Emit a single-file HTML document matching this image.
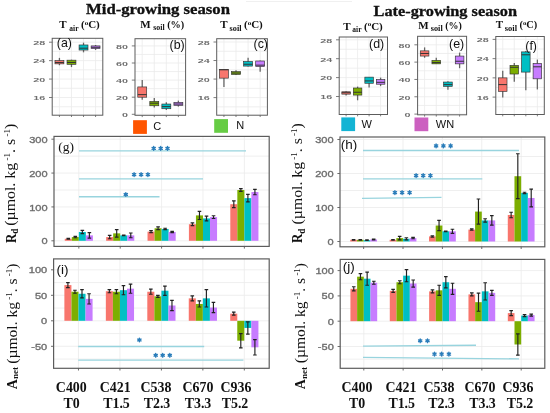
<!DOCTYPE html>
<html><head><meta charset="utf-8"><style>
html,body{margin:0;padding:0;background:#fff;width:550px;height:413px;overflow:hidden}
svg{display:block;will-change:transform}
</style></head><body>
<svg width="550" height="413" viewBox="0 0 550 413" font-family="Liberation Sans, sans-serif">
<rect width="550" height="413" fill="#fff"/>
<line x1="246" x2="352" y1="1.5" y2="1.5" stroke="#f0f0f0" stroke-width="1"/>
<line x1="52.2" x2="102.8" y1="97.5" y2="97.5" stroke="#EBEBEB" stroke-width="0.8"/>
<line x1="52.2" x2="102.8" y1="79.07" y2="79.07" stroke="#EBEBEB" stroke-width="0.8"/>
<line x1="52.2" x2="102.8" y1="60.63" y2="60.63" stroke="#EBEBEB" stroke-width="0.8"/>
<line x1="52.2" x2="102.8" y1="42.2" y2="42.2" stroke="#EBEBEB" stroke-width="0.8"/>
<line x1="52.2" x2="102.8" y1="106.72" y2="106.72" stroke="#EBEBEB" stroke-width="0.8"/>
<line x1="52.2" x2="102.8" y1="88.28" y2="88.28" stroke="#EBEBEB" stroke-width="0.8"/>
<line x1="52.2" x2="102.8" y1="69.85" y2="69.85" stroke="#EBEBEB" stroke-width="0.8"/>
<line x1="52.2" x2="102.8" y1="51.42" y2="51.42" stroke="#EBEBEB" stroke-width="0.8"/>
<line x1="59.43" x2="59.43" y1="38.3" y2="115.2" stroke="#EBEBEB" stroke-width="0.8"/>
<line x1="71.48" x2="71.48" y1="38.3" y2="115.2" stroke="#EBEBEB" stroke-width="0.8"/>
<line x1="83.52" x2="83.52" y1="38.3" y2="115.2" stroke="#EBEBEB" stroke-width="0.8"/>
<line x1="95.57" x2="95.57" y1="38.3" y2="115.2" stroke="#EBEBEB" stroke-width="0.8"/>
<line x1="59.43" x2="59.43" y1="57.87" y2="65.24" stroke="#666" stroke-width="1.3"/>
<rect x="54.97" y="60.63" width="8.92" height="3.23" fill="#F8766D" stroke="#333" stroke-width="0.65"/>
<line x1="54.97" x2="63.89" y1="62.48" y2="62.48" stroke="#333" stroke-width="1"/>
<line x1="71.48" x2="71.48" y1="59.71" y2="67.08" stroke="#666" stroke-width="1.3"/>
<rect x="67.02" y="60.17" width="8.92" height="4.15" fill="#7CAE00" stroke="#333" stroke-width="0.65"/>
<line x1="67.02" x2="75.93" y1="62.48" y2="62.48" stroke="#333" stroke-width="1"/>
<line x1="83.52" x2="83.52" y1="42.66" y2="52.34" stroke="#666" stroke-width="1.3"/>
<rect x="79.07" y="44.97" width="8.92" height="5.07" fill="#00BFC4" stroke="#333" stroke-width="0.65"/>
<line x1="79.07" x2="87.98" y1="48.19" y2="48.19" stroke="#333" stroke-width="1"/>
<line x1="95.57" x2="95.57" y1="44.97" y2="50.03" stroke="#666" stroke-width="1.3"/>
<rect x="91.11" y="45.89" width="8.92" height="2.76" fill="#C77CFF" stroke="#333" stroke-width="0.65"/>
<line x1="91.11" x2="100.03" y1="47.27" y2="47.27" stroke="#333" stroke-width="1"/>
<rect x="52.2" y="38.3" width="50.6" height="76.9" fill="none" stroke="#5c5c5c" stroke-width="1.0"/>
<line x1="49" x2="52.2" y1="97.5" y2="97.5" stroke="#5c5c5c" stroke-width="0.8"/>
<text transform="translate(45.2,100.33) scale(1.8,1)" font-size="6.0" font-weight="bold" text-anchor="end" fill="#6e6e6e">16</text>
<line x1="49" x2="52.2" y1="79.07" y2="79.07" stroke="#5c5c5c" stroke-width="0.8"/>
<text transform="translate(45.2,81.9) scale(1.8,1)" font-size="6.0" font-weight="bold" text-anchor="end" fill="#6e6e6e">20</text>
<line x1="49" x2="52.2" y1="60.63" y2="60.63" stroke="#5c5c5c" stroke-width="0.8"/>
<text transform="translate(45.2,63.46) scale(1.8,1)" font-size="6.0" font-weight="bold" text-anchor="end" fill="#6e6e6e">24</text>
<line x1="49" x2="52.2" y1="42.2" y2="42.2" stroke="#5c5c5c" stroke-width="0.8"/>
<text transform="translate(45.2,45.03) scale(1.8,1)" font-size="6.0" font-weight="bold" text-anchor="end" fill="#6e6e6e">28</text>
<line x1="59.43" x2="59.43" y1="115.2" y2="117" stroke="#5c5c5c" stroke-width="0.8"/>
<line x1="71.48" x2="71.48" y1="115.2" y2="117" stroke="#5c5c5c" stroke-width="0.8"/>
<line x1="83.52" x2="83.52" y1="115.2" y2="117" stroke="#5c5c5c" stroke-width="0.8"/>
<line x1="95.57" x2="95.57" y1="115.2" y2="117" stroke="#5c5c5c" stroke-width="0.8"/>
<text x="56.8" y="47.4" font-size="12.4" fill="#111">(a)</text>
<line x1="135" x2="185.6" y1="114.3" y2="114.3" stroke="#EBEBEB" stroke-width="0.8"/>
<line x1="135" x2="185.6" y1="97.2" y2="97.2" stroke="#EBEBEB" stroke-width="0.8"/>
<line x1="135" x2="185.6" y1="80.1" y2="80.1" stroke="#EBEBEB" stroke-width="0.8"/>
<line x1="135" x2="185.6" y1="63" y2="63" stroke="#EBEBEB" stroke-width="0.8"/>
<line x1="135" x2="185.6" y1="45.9" y2="45.9" stroke="#EBEBEB" stroke-width="0.8"/>
<line x1="135" x2="185.6" y1="105.75" y2="105.75" stroke="#EBEBEB" stroke-width="0.8"/>
<line x1="135" x2="185.6" y1="88.65" y2="88.65" stroke="#EBEBEB" stroke-width="0.8"/>
<line x1="135" x2="185.6" y1="71.55" y2="71.55" stroke="#EBEBEB" stroke-width="0.8"/>
<line x1="135" x2="185.6" y1="54.45" y2="54.45" stroke="#EBEBEB" stroke-width="0.8"/>
<line x1="142.23" x2="142.23" y1="38.7" y2="115.3" stroke="#EBEBEB" stroke-width="0.8"/>
<line x1="154.28" x2="154.28" y1="38.7" y2="115.3" stroke="#EBEBEB" stroke-width="0.8"/>
<line x1="166.32" x2="166.32" y1="38.7" y2="115.3" stroke="#EBEBEB" stroke-width="0.8"/>
<line x1="178.37" x2="178.37" y1="38.7" y2="115.3" stroke="#EBEBEB" stroke-width="0.8"/>
<line x1="142.23" x2="142.23" y1="80.1" y2="99.77" stroke="#666" stroke-width="1.3"/>
<rect x="137.77" y="86.94" width="8.92" height="10.26" fill="#F8766D" stroke="#333" stroke-width="0.65"/>
<line x1="137.77" x2="146.69" y1="94.63" y2="94.63" stroke="#333" stroke-width="1"/>
<line x1="154.28" x2="154.28" y1="98.05" y2="107.46" stroke="#666" stroke-width="1.3"/>
<rect x="149.82" y="101.47" width="8.92" height="4.28" fill="#7CAE00" stroke="#333" stroke-width="0.65"/>
<line x1="149.82" x2="158.73" y1="103.19" y2="103.19" stroke="#333" stroke-width="1"/>
<line x1="166.32" x2="166.32" y1="102.33" y2="110.02" stroke="#666" stroke-width="1.3"/>
<rect x="161.87" y="104.04" width="8.92" height="4.7" fill="#00BFC4" stroke="#333" stroke-width="0.65"/>
<line x1="161.87" x2="170.78" y1="106.6" y2="106.6" stroke="#333" stroke-width="1"/>
<line x1="178.37" x2="178.37" y1="100.62" y2="106.6" stroke="#666" stroke-width="1.3"/>
<rect x="173.91" y="102.33" width="8.92" height="2.99" fill="#C77CFF" stroke="#333" stroke-width="0.65"/>
<line x1="173.91" x2="182.83" y1="104.04" y2="104.04" stroke="#333" stroke-width="1"/>
<rect x="135" y="38.7" width="50.6" height="76.6" fill="none" stroke="#5c5c5c" stroke-width="1.0"/>
<line x1="131.8" x2="135" y1="114.3" y2="114.3" stroke="#5c5c5c" stroke-width="0.8"/>
<text transform="translate(128,117.13) scale(1.8,1)" font-size="6.0" font-weight="bold" text-anchor="end" fill="#6e6e6e">0</text>
<line x1="131.8" x2="135" y1="97.2" y2="97.2" stroke="#5c5c5c" stroke-width="0.8"/>
<text transform="translate(128,100.03) scale(1.8,1)" font-size="6.0" font-weight="bold" text-anchor="end" fill="#6e6e6e">20</text>
<line x1="131.8" x2="135" y1="80.1" y2="80.1" stroke="#5c5c5c" stroke-width="0.8"/>
<text transform="translate(128,82.93) scale(1.8,1)" font-size="6.0" font-weight="bold" text-anchor="end" fill="#6e6e6e">40</text>
<line x1="131.8" x2="135" y1="63" y2="63" stroke="#5c5c5c" stroke-width="0.8"/>
<text transform="translate(128,65.83) scale(1.8,1)" font-size="6.0" font-weight="bold" text-anchor="end" fill="#6e6e6e">60</text>
<line x1="131.8" x2="135" y1="45.9" y2="45.9" stroke="#5c5c5c" stroke-width="0.8"/>
<text transform="translate(128,48.73) scale(1.8,1)" font-size="6.0" font-weight="bold" text-anchor="end" fill="#6e6e6e">80</text>
<line x1="142.23" x2="142.23" y1="115.3" y2="117.1" stroke="#5c5c5c" stroke-width="0.8"/>
<line x1="154.28" x2="154.28" y1="115.3" y2="117.1" stroke="#5c5c5c" stroke-width="0.8"/>
<line x1="166.32" x2="166.32" y1="115.3" y2="117.1" stroke="#5c5c5c" stroke-width="0.8"/>
<line x1="178.37" x2="178.37" y1="115.3" y2="117.1" stroke="#5c5c5c" stroke-width="0.8"/>
<text x="169.6" y="49.2" font-size="12.4" fill="#111">(b)</text>
<line x1="216.7" x2="267.4" y1="97.6" y2="97.6" stroke="#EBEBEB" stroke-width="0.8"/>
<line x1="216.7" x2="267.4" y1="79.07" y2="79.07" stroke="#EBEBEB" stroke-width="0.8"/>
<line x1="216.7" x2="267.4" y1="60.53" y2="60.53" stroke="#EBEBEB" stroke-width="0.8"/>
<line x1="216.7" x2="267.4" y1="42" y2="42" stroke="#EBEBEB" stroke-width="0.8"/>
<line x1="216.7" x2="267.4" y1="106.87" y2="106.87" stroke="#EBEBEB" stroke-width="0.8"/>
<line x1="216.7" x2="267.4" y1="88.33" y2="88.33" stroke="#EBEBEB" stroke-width="0.8"/>
<line x1="216.7" x2="267.4" y1="69.8" y2="69.8" stroke="#EBEBEB" stroke-width="0.8"/>
<line x1="216.7" x2="267.4" y1="51.27" y2="51.27" stroke="#EBEBEB" stroke-width="0.8"/>
<line x1="223.94" x2="223.94" y1="38.7" y2="115.2" stroke="#EBEBEB" stroke-width="0.8"/>
<line x1="236.01" x2="236.01" y1="38.7" y2="115.2" stroke="#EBEBEB" stroke-width="0.8"/>
<line x1="248.09" x2="248.09" y1="38.7" y2="115.2" stroke="#EBEBEB" stroke-width="0.8"/>
<line x1="260.16" x2="260.16" y1="38.7" y2="115.2" stroke="#EBEBEB" stroke-width="0.8"/>
<line x1="223.94" x2="223.94" y1="69.34" y2="86.94" stroke="#666" stroke-width="1.3"/>
<rect x="219.48" y="69.34" width="8.93" height="8.8" fill="#F8766D" stroke="#333" stroke-width="0.65"/>
<line x1="219.48" x2="228.41" y1="69.8" y2="69.8" stroke="#333" stroke-width="1"/>
<line x1="236.01" x2="236.01" y1="70.26" y2="74.9" stroke="#666" stroke-width="1.3"/>
<rect x="231.55" y="71.65" width="8.93" height="2.78" fill="#7CAE00" stroke="#333" stroke-width="0.65"/>
<line x1="231.55" x2="240.48" y1="73.04" y2="73.04" stroke="#333" stroke-width="1"/>
<line x1="248.09" x2="248.09" y1="57.75" y2="66.56" stroke="#666" stroke-width="1.3"/>
<rect x="243.62" y="61.46" width="8.93" height="4.63" fill="#00BFC4" stroke="#333" stroke-width="0.65"/>
<line x1="243.62" x2="252.55" y1="64.24" y2="64.24" stroke="#333" stroke-width="1"/>
<line x1="260.16" x2="260.16" y1="60.53" y2="71.65" stroke="#666" stroke-width="1.3"/>
<rect x="255.69" y="61" width="8.93" height="5.56" fill="#C77CFF" stroke="#333" stroke-width="0.65"/>
<line x1="255.69" x2="264.62" y1="65.17" y2="65.17" stroke="#333" stroke-width="1"/>
<rect x="216.7" y="38.7" width="50.7" height="76.5" fill="none" stroke="#5c5c5c" stroke-width="1.0"/>
<line x1="213.5" x2="216.7" y1="97.6" y2="97.6" stroke="#5c5c5c" stroke-width="0.8"/>
<text transform="translate(209.7,100.43) scale(1.8,1)" font-size="6.0" font-weight="bold" text-anchor="end" fill="#6e6e6e">16</text>
<line x1="213.5" x2="216.7" y1="79.07" y2="79.07" stroke="#5c5c5c" stroke-width="0.8"/>
<text transform="translate(209.7,81.9) scale(1.8,1)" font-size="6.0" font-weight="bold" text-anchor="end" fill="#6e6e6e">20</text>
<line x1="213.5" x2="216.7" y1="60.53" y2="60.53" stroke="#5c5c5c" stroke-width="0.8"/>
<text transform="translate(209.7,63.36) scale(1.8,1)" font-size="6.0" font-weight="bold" text-anchor="end" fill="#6e6e6e">24</text>
<line x1="213.5" x2="216.7" y1="42" y2="42" stroke="#5c5c5c" stroke-width="0.8"/>
<text transform="translate(209.7,44.83) scale(1.8,1)" font-size="6.0" font-weight="bold" text-anchor="end" fill="#6e6e6e">28</text>
<line x1="223.94" x2="223.94" y1="115.2" y2="117" stroke="#5c5c5c" stroke-width="0.8"/>
<line x1="236.01" x2="236.01" y1="115.2" y2="117" stroke="#5c5c5c" stroke-width="0.8"/>
<line x1="248.09" x2="248.09" y1="115.2" y2="117" stroke="#5c5c5c" stroke-width="0.8"/>
<line x1="260.16" x2="260.16" y1="115.2" y2="117" stroke="#5c5c5c" stroke-width="0.8"/>
<text x="253.5" y="48.4" font-size="12.4" fill="#111">(c)</text>
<line x1="339.2" x2="387.5" y1="96.5" y2="96.5" stroke="#EBEBEB" stroke-width="0.8"/>
<line x1="339.2" x2="387.5" y1="77.6" y2="77.6" stroke="#EBEBEB" stroke-width="0.8"/>
<line x1="339.2" x2="387.5" y1="58.7" y2="58.7" stroke="#EBEBEB" stroke-width="0.8"/>
<line x1="339.2" x2="387.5" y1="39.8" y2="39.8" stroke="#EBEBEB" stroke-width="0.8"/>
<line x1="339.2" x2="387.5" y1="105.95" y2="105.95" stroke="#EBEBEB" stroke-width="0.8"/>
<line x1="339.2" x2="387.5" y1="87.05" y2="87.05" stroke="#EBEBEB" stroke-width="0.8"/>
<line x1="339.2" x2="387.5" y1="68.15" y2="68.15" stroke="#EBEBEB" stroke-width="0.8"/>
<line x1="339.2" x2="387.5" y1="49.25" y2="49.25" stroke="#EBEBEB" stroke-width="0.8"/>
<line x1="346.1" x2="346.1" y1="37" y2="114.5" stroke="#EBEBEB" stroke-width="0.8"/>
<line x1="357.6" x2="357.6" y1="37" y2="114.5" stroke="#EBEBEB" stroke-width="0.8"/>
<line x1="369.1" x2="369.1" y1="37" y2="114.5" stroke="#EBEBEB" stroke-width="0.8"/>
<line x1="380.6" x2="380.6" y1="37" y2="114.5" stroke="#EBEBEB" stroke-width="0.8"/>
<line x1="346.1" x2="346.1" y1="91.3" y2="95.56" stroke="#666" stroke-width="1.3"/>
<rect x="341.84" y="91.78" width="8.51" height="2.36" fill="#F8766D" stroke="#333" stroke-width="0.65"/>
<line x1="341.84" x2="350.35" y1="92.72" y2="92.72" stroke="#333" stroke-width="1"/>
<line x1="357.6" x2="357.6" y1="86.58" y2="100.28" stroke="#666" stroke-width="1.3"/>
<rect x="353.34" y="87.99" width="8.51" height="7.09" fill="#7CAE00" stroke="#333" stroke-width="0.65"/>
<line x1="353.34" x2="361.85" y1="92.25" y2="92.25" stroke="#333" stroke-width="1"/>
<line x1="369.1" x2="369.1" y1="77.13" y2="87.52" stroke="#666" stroke-width="1.3"/>
<rect x="364.85" y="77.13" width="8.51" height="6.14" fill="#00BFC4" stroke="#333" stroke-width="0.65"/>
<line x1="364.85" x2="373.36" y1="80.91" y2="80.91" stroke="#333" stroke-width="1"/>
<line x1="380.6" x2="380.6" y1="77.6" y2="86.11" stroke="#666" stroke-width="1.3"/>
<rect x="376.35" y="79.49" width="8.51" height="4.72" fill="#C77CFF" stroke="#333" stroke-width="0.65"/>
<line x1="376.35" x2="384.86" y1="82.33" y2="82.33" stroke="#333" stroke-width="1"/>
<rect x="339.2" y="37" width="48.3" height="77.5" fill="none" stroke="#5c5c5c" stroke-width="1.0"/>
<line x1="336" x2="339.2" y1="96.5" y2="96.5" stroke="#5c5c5c" stroke-width="0.8"/>
<text transform="translate(332.2,99.33) scale(1.8,1)" font-size="6.0" font-weight="bold" text-anchor="end" fill="#6e6e6e">16</text>
<line x1="336" x2="339.2" y1="77.6" y2="77.6" stroke="#5c5c5c" stroke-width="0.8"/>
<text transform="translate(332.2,80.43) scale(1.8,1)" font-size="6.0" font-weight="bold" text-anchor="end" fill="#6e6e6e">20</text>
<line x1="336" x2="339.2" y1="58.7" y2="58.7" stroke="#5c5c5c" stroke-width="0.8"/>
<text transform="translate(332.2,61.53) scale(1.8,1)" font-size="6.0" font-weight="bold" text-anchor="end" fill="#6e6e6e">24</text>
<line x1="336" x2="339.2" y1="39.8" y2="39.8" stroke="#5c5c5c" stroke-width="0.8"/>
<text transform="translate(332.2,42.63) scale(1.8,1)" font-size="6.0" font-weight="bold" text-anchor="end" fill="#6e6e6e">28</text>
<line x1="346.1" x2="346.1" y1="114.5" y2="116.3" stroke="#5c5c5c" stroke-width="0.8"/>
<line x1="357.6" x2="357.6" y1="114.5" y2="116.3" stroke="#5c5c5c" stroke-width="0.8"/>
<line x1="369.1" x2="369.1" y1="114.5" y2="116.3" stroke="#5c5c5c" stroke-width="0.8"/>
<line x1="380.6" x2="380.6" y1="114.5" y2="116.3" stroke="#5c5c5c" stroke-width="0.8"/>
<text x="369" y="48.2" font-size="12.4" fill="#111">(d)</text>
<line x1="417.6" x2="466.6" y1="114.1" y2="114.1" stroke="#EBEBEB" stroke-width="0.8"/>
<line x1="417.6" x2="466.6" y1="96.77" y2="96.77" stroke="#EBEBEB" stroke-width="0.8"/>
<line x1="417.6" x2="466.6" y1="79.45" y2="79.45" stroke="#EBEBEB" stroke-width="0.8"/>
<line x1="417.6" x2="466.6" y1="62.12" y2="62.12" stroke="#EBEBEB" stroke-width="0.8"/>
<line x1="417.6" x2="466.6" y1="44.8" y2="44.8" stroke="#EBEBEB" stroke-width="0.8"/>
<line x1="417.6" x2="466.6" y1="105.44" y2="105.44" stroke="#EBEBEB" stroke-width="0.8"/>
<line x1="417.6" x2="466.6" y1="88.11" y2="88.11" stroke="#EBEBEB" stroke-width="0.8"/>
<line x1="417.6" x2="466.6" y1="70.79" y2="70.79" stroke="#EBEBEB" stroke-width="0.8"/>
<line x1="417.6" x2="466.6" y1="53.46" y2="53.46" stroke="#EBEBEB" stroke-width="0.8"/>
<line x1="424.6" x2="424.6" y1="36.3" y2="114.8" stroke="#EBEBEB" stroke-width="0.8"/>
<line x1="436.27" x2="436.27" y1="36.3" y2="114.8" stroke="#EBEBEB" stroke-width="0.8"/>
<line x1="447.93" x2="447.93" y1="36.3" y2="114.8" stroke="#EBEBEB" stroke-width="0.8"/>
<line x1="459.6" x2="459.6" y1="36.3" y2="114.8" stroke="#EBEBEB" stroke-width="0.8"/>
<line x1="424.6" x2="424.6" y1="47.4" y2="57.79" stroke="#666" stroke-width="1.3"/>
<rect x="420.28" y="50.86" width="8.63" height="5.2" fill="#F8766D" stroke="#333" stroke-width="0.65"/>
<line x1="420.28" x2="428.92" y1="53.46" y2="53.46" stroke="#333" stroke-width="1"/>
<line x1="436.27" x2="436.27" y1="57.79" y2="63.86" stroke="#666" stroke-width="1.3"/>
<rect x="431.95" y="60.39" width="8.63" height="3.46" fill="#7CAE00" stroke="#333" stroke-width="0.65"/>
<line x1="431.95" x2="440.58" y1="62.56" y2="62.56" stroke="#333" stroke-width="1"/>
<line x1="447.93" x2="447.93" y1="81.18" y2="89.84" stroke="#666" stroke-width="1.3"/>
<rect x="443.62" y="82.05" width="8.63" height="4.33" fill="#00BFC4" stroke="#333" stroke-width="0.65"/>
<line x1="443.62" x2="452.25" y1="84.65" y2="84.65" stroke="#333" stroke-width="1"/>
<line x1="459.6" x2="459.6" y1="52.6" y2="68.19" stroke="#666" stroke-width="1.3"/>
<rect x="455.28" y="56.06" width="8.63" height="7.8" fill="#C77CFF" stroke="#333" stroke-width="0.65"/>
<line x1="455.28" x2="463.92" y1="61.26" y2="61.26" stroke="#333" stroke-width="1"/>
<rect x="417.6" y="36.3" width="49" height="78.5" fill="none" stroke="#5c5c5c" stroke-width="1.0"/>
<line x1="414.4" x2="417.6" y1="114.1" y2="114.1" stroke="#5c5c5c" stroke-width="0.8"/>
<text transform="translate(410.6,116.93) scale(1.8,1)" font-size="6.0" font-weight="bold" text-anchor="end" fill="#6e6e6e">0</text>
<line x1="414.4" x2="417.6" y1="96.77" y2="96.77" stroke="#5c5c5c" stroke-width="0.8"/>
<text transform="translate(410.6,99.6) scale(1.8,1)" font-size="6.0" font-weight="bold" text-anchor="end" fill="#6e6e6e">20</text>
<line x1="414.4" x2="417.6" y1="79.45" y2="79.45" stroke="#5c5c5c" stroke-width="0.8"/>
<text transform="translate(410.6,82.28) scale(1.8,1)" font-size="6.0" font-weight="bold" text-anchor="end" fill="#6e6e6e">40</text>
<line x1="414.4" x2="417.6" y1="62.12" y2="62.12" stroke="#5c5c5c" stroke-width="0.8"/>
<text transform="translate(410.6,64.95) scale(1.8,1)" font-size="6.0" font-weight="bold" text-anchor="end" fill="#6e6e6e">60</text>
<line x1="414.4" x2="417.6" y1="44.8" y2="44.8" stroke="#5c5c5c" stroke-width="0.8"/>
<text transform="translate(410.6,47.63) scale(1.8,1)" font-size="6.0" font-weight="bold" text-anchor="end" fill="#6e6e6e">80</text>
<line x1="424.6" x2="424.6" y1="114.8" y2="116.6" stroke="#5c5c5c" stroke-width="0.8"/>
<line x1="436.27" x2="436.27" y1="114.8" y2="116.6" stroke="#5c5c5c" stroke-width="0.8"/>
<line x1="447.93" x2="447.93" y1="114.8" y2="116.6" stroke="#5c5c5c" stroke-width="0.8"/>
<line x1="459.6" x2="459.6" y1="114.8" y2="116.6" stroke="#5c5c5c" stroke-width="0.8"/>
<text x="449" y="48.4" font-size="12.4" fill="#111">(e)</text>
<line x1="495.8" x2="544.3" y1="97.1" y2="97.1" stroke="#EBEBEB" stroke-width="0.8"/>
<line x1="495.8" x2="544.3" y1="77.87" y2="77.87" stroke="#EBEBEB" stroke-width="0.8"/>
<line x1="495.8" x2="544.3" y1="58.63" y2="58.63" stroke="#EBEBEB" stroke-width="0.8"/>
<line x1="495.8" x2="544.3" y1="39.4" y2="39.4" stroke="#EBEBEB" stroke-width="0.8"/>
<line x1="495.8" x2="544.3" y1="106.72" y2="106.72" stroke="#EBEBEB" stroke-width="0.8"/>
<line x1="495.8" x2="544.3" y1="87.48" y2="87.48" stroke="#EBEBEB" stroke-width="0.8"/>
<line x1="495.8" x2="544.3" y1="68.25" y2="68.25" stroke="#EBEBEB" stroke-width="0.8"/>
<line x1="495.8" x2="544.3" y1="49.02" y2="49.02" stroke="#EBEBEB" stroke-width="0.8"/>
<line x1="502.73" x2="502.73" y1="36.5" y2="114.5" stroke="#EBEBEB" stroke-width="0.8"/>
<line x1="514.28" x2="514.28" y1="36.5" y2="114.5" stroke="#EBEBEB" stroke-width="0.8"/>
<line x1="525.82" x2="525.82" y1="36.5" y2="114.5" stroke="#EBEBEB" stroke-width="0.8"/>
<line x1="537.37" x2="537.37" y1="36.5" y2="114.5" stroke="#EBEBEB" stroke-width="0.8"/>
<line x1="502.73" x2="502.73" y1="70.65" y2="97.58" stroke="#666" stroke-width="1.3"/>
<rect x="498.46" y="77.87" width="8.55" height="13.46" fill="#F8766D" stroke="#333" stroke-width="0.65"/>
<line x1="498.46" x2="507" y1="84.6" y2="84.6" stroke="#333" stroke-width="1"/>
<line x1="514.28" x2="514.28" y1="62.96" y2="81.71" stroke="#666" stroke-width="1.3"/>
<rect x="510" y="65.36" width="8.55" height="8.66" fill="#7CAE00" stroke="#333" stroke-width="0.65"/>
<line x1="510" x2="518.55" y1="67.29" y2="67.29" stroke="#333" stroke-width="1"/>
<line x1="525.82" x2="525.82" y1="50.94" y2="90.37" stroke="#666" stroke-width="1.3"/>
<rect x="521.55" y="51.9" width="8.55" height="20.19" fill="#00BFC4" stroke="#333" stroke-width="0.65"/>
<line x1="521.55" x2="530.1" y1="54.79" y2="54.79" stroke="#333" stroke-width="1"/>
<line x1="537.37" x2="537.37" y1="59.59" y2="89.41" stroke="#666" stroke-width="1.3"/>
<rect x="533.1" y="63.44" width="8.55" height="15.39" fill="#C77CFF" stroke="#333" stroke-width="0.65"/>
<line x1="533.1" x2="541.64" y1="66.81" y2="66.81" stroke="#333" stroke-width="1"/>
<rect x="495.8" y="36.5" width="48.5" height="78" fill="none" stroke="#5c5c5c" stroke-width="1.0"/>
<line x1="492.6" x2="495.8" y1="97.1" y2="97.1" stroke="#5c5c5c" stroke-width="0.8"/>
<text transform="translate(488.8,99.93) scale(1.8,1)" font-size="6.0" font-weight="bold" text-anchor="end" fill="#6e6e6e">16</text>
<line x1="492.6" x2="495.8" y1="77.87" y2="77.87" stroke="#5c5c5c" stroke-width="0.8"/>
<text transform="translate(488.8,80.7) scale(1.8,1)" font-size="6.0" font-weight="bold" text-anchor="end" fill="#6e6e6e">20</text>
<line x1="492.6" x2="495.8" y1="58.63" y2="58.63" stroke="#5c5c5c" stroke-width="0.8"/>
<text transform="translate(488.8,61.46) scale(1.8,1)" font-size="6.0" font-weight="bold" text-anchor="end" fill="#6e6e6e">24</text>
<line x1="492.6" x2="495.8" y1="39.4" y2="39.4" stroke="#5c5c5c" stroke-width="0.8"/>
<text transform="translate(488.8,42.23) scale(1.8,1)" font-size="6.0" font-weight="bold" text-anchor="end" fill="#6e6e6e">28</text>
<line x1="502.73" x2="502.73" y1="114.5" y2="116.3" stroke="#5c5c5c" stroke-width="0.8"/>
<line x1="514.28" x2="514.28" y1="114.5" y2="116.3" stroke="#5c5c5c" stroke-width="0.8"/>
<line x1="525.82" x2="525.82" y1="114.5" y2="116.3" stroke="#5c5c5c" stroke-width="0.8"/>
<line x1="537.37" x2="537.37" y1="114.5" y2="116.3" stroke="#5c5c5c" stroke-width="0.8"/>
<text x="525.3" y="50.1" font-size="12.4" fill="#111">(f)</text>
<g font-family="Liberation Serif, serif" font-weight="bold" fill="#111">
<text x="86" y="13.6" font-size="14" stroke="#111" stroke-width="0.3" textLength="144" lengthAdjust="spacingAndGlyphs">Mid-growing season</text>
<text x="373.5" y="15.6" font-size="14" stroke="#111" stroke-width="0.3" textLength="143.5" lengthAdjust="spacingAndGlyphs">Late-growing season</text>
<text x="59.3" y="28.1" font-size="11">T</text>
<text x="69.3" y="30.5" font-size="8.2" textLength="9.2" lengthAdjust="spacingAndGlyphs">air</text>
<text x="81.0" y="28.1" font-size="11" textLength="18.8" lengthAdjust="spacingAndGlyphs">(<tspan font-size="7" dy="-3.2">o</tspan><tspan dy="3.2">C)</tspan></text>
<text x="140.3" y="28.0" font-size="11">M</text>
<text x="153.3" y="30.4" font-size="8.2" textLength="11.4" lengthAdjust="spacingAndGlyphs">soil</text>
<text x="167.2" y="28.0" font-size="11" textLength="17.1" lengthAdjust="spacingAndGlyphs">(%)</text>
<text x="220.2" y="28.2" font-size="11">T</text>
<text x="229.6" y="30.599999999999998" font-size="8.2" textLength="11.9" lengthAdjust="spacingAndGlyphs">soil</text>
<text x="244.0" y="28.2" font-size="11" textLength="18.8" lengthAdjust="spacingAndGlyphs">(<tspan font-size="7" dy="-3.2">o</tspan><tspan dy="3.2">C)</tspan></text>
<text x="343.3" y="29.6" font-size="11">T</text>
<text x="352.3" y="32.0" font-size="8.2" textLength="9.2" lengthAdjust="spacingAndGlyphs">air</text>
<text x="364.0" y="29.6" font-size="11" textLength="18.8" lengthAdjust="spacingAndGlyphs">(<tspan font-size="7" dy="-3.2">o</tspan><tspan dy="3.2">C)</tspan></text>
<text x="418.3" y="28.5" font-size="11">M</text>
<text x="430.8" y="30.9" font-size="8.2" textLength="11.9" lengthAdjust="spacingAndGlyphs">soil</text>
<text x="445.2" y="28.5" font-size="11" textLength="16.6" lengthAdjust="spacingAndGlyphs">(%)</text>
<text x="495.8" y="28.2" font-size="11">T</text>
<text x="504.8" y="30.599999999999998" font-size="8.2" textLength="12.3" lengthAdjust="spacingAndGlyphs">soil</text>
<text x="519.6" y="28.2" font-size="11" textLength="17.7" lengthAdjust="spacingAndGlyphs">(<tspan font-size="7" dy="-3.2">o</tspan><tspan dy="3.2">C)</tspan></text>
</g>
<rect x="133.1" y="120.2" width="13.8" height="13.7" fill="#FF5500"/>
<text x="153.3" y="130.4" font-size="11" fill="#111">C</text>
<rect x="214.2" y="119.1" width="13.8" height="13.7" fill="#66CC44"/>
<text x="236.3" y="129.3" font-size="11" fill="#111">N</text>
<rect x="341.3" y="117.4" width="13.8" height="13.7" fill="#14B4D4"/>
<text x="361.5" y="127.6" font-size="11" fill="#111">W</text>
<rect x="414.5" y="117.5" width="13.8" height="13.7" fill="#CC60C0"/>
<text x="435.8" y="127.7" font-size="11" fill="#111">WN</text>
<line x1="54" x2="269.2" y1="240.8" y2="240.8" stroke="#EBEBEB" stroke-width="0.8"/>
<line x1="54" x2="269.2" y1="206.93" y2="206.93" stroke="#EBEBEB" stroke-width="0.8"/>
<line x1="54" x2="269.2" y1="173.07" y2="173.07" stroke="#EBEBEB" stroke-width="0.8"/>
<line x1="54" x2="269.2" y1="139.2" y2="139.2" stroke="#EBEBEB" stroke-width="0.8"/>
<line x1="54" x2="269.2" y1="223.87" y2="223.87" stroke="#EBEBEB" stroke-width="0.8"/>
<line x1="54" x2="269.2" y1="190" y2="190" stroke="#EBEBEB" stroke-width="0.8"/>
<line x1="54" x2="269.2" y1="156.13" y2="156.13" stroke="#EBEBEB" stroke-width="0.8"/>
<line x1="78.83" x2="78.83" y1="136.4" y2="246.4" stroke="#EBEBEB" stroke-width="0.8"/>
<line x1="120.22" x2="120.22" y1="136.4" y2="246.4" stroke="#EBEBEB" stroke-width="0.8"/>
<line x1="161.6" x2="161.6" y1="136.4" y2="246.4" stroke="#EBEBEB" stroke-width="0.8"/>
<line x1="202.98" x2="202.98" y1="136.4" y2="246.4" stroke="#EBEBEB" stroke-width="0.8"/>
<line x1="244.37" x2="244.37" y1="136.4" y2="246.4" stroke="#EBEBEB" stroke-width="0.8"/>
<line x1="79" x2="246" y1="150.9" y2="150.9" stroke="#98D4DE" stroke-width="1.35"/>
<path d="M153.7 146.55L153.7 150.25M155.3 147.47L152.1 149.33M155.3 149.33L152.1 147.47" stroke="#2A7DBA" stroke-width="1.4" stroke-linecap="round"/>
<path d="M160.7 146.55L160.7 150.25M162.3 147.47L159.1 149.33M162.3 149.33L159.1 147.47" stroke="#2A7DBA" stroke-width="1.4" stroke-linecap="round"/>
<path d="M167.5 146.55L167.5 150.25M169.1 147.47L165.9 149.33M169.1 149.33L165.9 147.47" stroke="#2A7DBA" stroke-width="1.4" stroke-linecap="round"/>
<line x1="79" x2="203" y1="178.9" y2="178.9" stroke="#98D4DE" stroke-width="1.35"/>
<path d="M134.1 172.75L134.1 176.45M135.7 173.67L132.5 175.53M135.7 175.53L132.5 173.67" stroke="#2A7DBA" stroke-width="1.4" stroke-linecap="round"/>
<path d="M141.1 172.75L141.1 176.45M142.7 173.67L139.5 175.53M142.7 175.53L139.5 173.67" stroke="#2A7DBA" stroke-width="1.4" stroke-linecap="round"/>
<path d="M147.9 172.75L147.9 176.45M149.5 173.67L146.3 175.53M149.5 175.53L146.3 173.67" stroke="#2A7DBA" stroke-width="1.4" stroke-linecap="round"/>
<line x1="79" x2="159.5" y1="196.7" y2="196.7" stroke="#98D4DE" stroke-width="1.35"/>
<path d="M125.8 192.65L125.8 196.35M127.4 193.57L124.2 195.43M127.4 195.43L124.2 193.57" stroke="#2A7DBA" stroke-width="1.4" stroke-linecap="round"/>
<rect x="64.76" y="238.77" width="7.04" height="2.03" fill="#F8766D"/>
<rect x="71.8" y="237.07" width="7.04" height="3.73" fill="#7CAE00"/>
<rect x="78.83" y="231.99" width="7.04" height="8.81" fill="#00BFC4"/>
<rect x="85.87" y="235.38" width="7.04" height="5.42" fill="#C77CFF"/>
<path d="M66.48 238.43H70.08M68.28 238.43V239.11M66.48 239.11H70.08" stroke="#222" stroke-width="1.15" fill="none"/>
<path d="M73.51 236.4H77.11M75.31 236.4V237.75M73.51 237.75H77.11" stroke="#222" stroke-width="1.15" fill="none"/>
<path d="M80.55 230.3H84.15M82.35 230.3V233.69M80.55 233.69H84.15" stroke="#222" stroke-width="1.15" fill="none"/>
<path d="M87.58 232.67H91.18M89.38 232.67V238.09M87.58 238.09H91.18" stroke="#222" stroke-width="1.15" fill="none"/>
<rect x="106.14" y="237.07" width="7.04" height="3.73" fill="#F8766D"/>
<rect x="113.18" y="233.35" width="7.04" height="7.45" fill="#7CAE00"/>
<rect x="120.22" y="235.38" width="7.04" height="5.42" fill="#00BFC4"/>
<rect x="127.25" y="235.38" width="7.04" height="5.42" fill="#C77CFF"/>
<path d="M107.86 235.38H111.46M109.66 235.38V238.77M107.86 238.77H111.46" stroke="#222" stroke-width="1.15" fill="none"/>
<path d="M114.9 229.62H118.5M116.7 229.62V237.07M114.9 237.07H118.5" stroke="#222" stroke-width="1.15" fill="none"/>
<path d="M121.93 235.04H125.53M123.73 235.04V235.72M121.93 235.72H125.53" stroke="#222" stroke-width="1.15" fill="none"/>
<path d="M128.97 233.01H132.57M130.77 233.01V237.75M128.97 237.75H132.57" stroke="#222" stroke-width="1.15" fill="none"/>
<rect x="147.53" y="231.66" width="7.04" height="9.14" fill="#F8766D"/>
<rect x="154.56" y="228.27" width="7.04" height="12.53" fill="#7CAE00"/>
<rect x="161.6" y="228.95" width="7.04" height="11.85" fill="#00BFC4"/>
<rect x="168.64" y="231.99" width="7.04" height="8.81" fill="#C77CFF"/>
<path d="M149.25 230.64H152.85M151.05 230.64V232.67M149.25 232.67H152.85" stroke="#222" stroke-width="1.15" fill="none"/>
<path d="M156.28 226.91H159.88M158.08 226.91V229.62M156.28 229.62H159.88" stroke="#222" stroke-width="1.15" fill="none"/>
<path d="M163.32 228.27H166.92M165.12 228.27V229.62M163.32 229.62H166.92" stroke="#222" stroke-width="1.15" fill="none"/>
<path d="M170.35 231.32H173.95M172.15 231.32V232.67M170.35 232.67H173.95" stroke="#222" stroke-width="1.15" fill="none"/>
<rect x="188.91" y="224.21" width="7.04" height="16.59" fill="#F8766D"/>
<rect x="195.95" y="215.4" width="7.04" height="25.4" fill="#7CAE00"/>
<rect x="202.98" y="218.45" width="7.04" height="22.35" fill="#00BFC4"/>
<rect x="210.02" y="217.09" width="7.04" height="23.71" fill="#C77CFF"/>
<path d="M190.63 222.85H194.23M192.43 222.85V225.56M190.63 225.56H194.23" stroke="#222" stroke-width="1.15" fill="none"/>
<path d="M197.67 211.34H201.27M199.47 211.34V219.46M197.67 219.46H201.27" stroke="#222" stroke-width="1.15" fill="none"/>
<path d="M204.7 216.08H208.3M206.5 216.08V220.82M204.7 220.82H208.3" stroke="#222" stroke-width="1.15" fill="none"/>
<path d="M211.74 215.74H215.34M213.54 215.74V218.45M211.74 218.45H215.34" stroke="#222" stroke-width="1.15" fill="none"/>
<rect x="230.3" y="204.22" width="7.04" height="36.58" fill="#F8766D"/>
<rect x="237.33" y="190" width="7.04" height="50.8" fill="#7CAE00"/>
<rect x="244.37" y="198.13" width="7.04" height="42.67" fill="#00BFC4"/>
<rect x="251.4" y="192.03" width="7.04" height="48.77" fill="#C77CFF"/>
<path d="M232.02 200.84H235.62M233.82 200.84V207.61M232.02 207.61H235.62" stroke="#222" stroke-width="1.15" fill="none"/>
<path d="M239.05 188.65H242.65M240.85 188.65V191.35M239.05 191.35H242.65" stroke="#222" stroke-width="1.15" fill="none"/>
<path d="M246.09 194.4H249.69M247.89 194.4V201.85M246.09 201.85H249.69" stroke="#222" stroke-width="1.15" fill="none"/>
<path d="M253.12 189.32H256.72M254.92 189.32V194.74M253.12 194.74H256.72" stroke="#222" stroke-width="1.15" fill="none"/>
<rect x="54" y="136.4" width="215.2" height="110" fill="none" stroke="#5c5c5c" stroke-width="1.2"/>
<line x1="51.4" x2="54" y1="240.8" y2="240.8" stroke="#5c5c5c" stroke-width="0.9"/>
<text transform="translate(47.6,244.37) scale(1.2,1)" font-size="9.2" stroke="#6e6e6e" stroke-width="0.35" text-anchor="end" fill="#6e6e6e">0</text>
<line x1="51.4" x2="54" y1="206.93" y2="206.93" stroke="#5c5c5c" stroke-width="0.9"/>
<text transform="translate(47.6,210.5) scale(1.2,1)" font-size="9.2" stroke="#6e6e6e" stroke-width="0.35" text-anchor="end" fill="#6e6e6e">100</text>
<line x1="51.4" x2="54" y1="173.07" y2="173.07" stroke="#5c5c5c" stroke-width="0.9"/>
<text transform="translate(47.6,176.63) scale(1.2,1)" font-size="9.2" stroke="#6e6e6e" stroke-width="0.35" text-anchor="end" fill="#6e6e6e">200</text>
<line x1="51.4" x2="54" y1="139.2" y2="139.2" stroke="#5c5c5c" stroke-width="0.9"/>
<text transform="translate(47.6,142.77) scale(1.2,1)" font-size="9.2" stroke="#6e6e6e" stroke-width="0.35" text-anchor="end" fill="#6e6e6e">300</text>
<line x1="78.83" x2="78.83" y1="246.4" y2="248.6" stroke="#5c5c5c" stroke-width="0.9"/>
<line x1="120.22" x2="120.22" y1="246.4" y2="248.6" stroke="#5c5c5c" stroke-width="0.9"/>
<line x1="161.6" x2="161.6" y1="246.4" y2="248.6" stroke="#5c5c5c" stroke-width="0.9"/>
<line x1="202.98" x2="202.98" y1="246.4" y2="248.6" stroke="#5c5c5c" stroke-width="0.9"/>
<line x1="244.37" x2="244.37" y1="246.4" y2="248.6" stroke="#5c5c5c" stroke-width="0.9"/>
<text x="58.3" y="150.9" font-size="13.5" font-family="Liberation Serif, serif" fill="#111">(g)</text>
<line x1="340" x2="544.8" y1="241.5" y2="241.5" stroke="#EBEBEB" stroke-width="0.8"/>
<line x1="340" x2="544.8" y1="207.5" y2="207.5" stroke="#EBEBEB" stroke-width="0.8"/>
<line x1="340" x2="544.8" y1="173.5" y2="173.5" stroke="#EBEBEB" stroke-width="0.8"/>
<line x1="340" x2="544.8" y1="139.5" y2="139.5" stroke="#EBEBEB" stroke-width="0.8"/>
<line x1="340" x2="544.8" y1="224.5" y2="224.5" stroke="#EBEBEB" stroke-width="0.8"/>
<line x1="340" x2="544.8" y1="190.5" y2="190.5" stroke="#EBEBEB" stroke-width="0.8"/>
<line x1="340" x2="544.8" y1="156.5" y2="156.5" stroke="#EBEBEB" stroke-width="0.8"/>
<line x1="363.63" x2="363.63" y1="137" y2="246.8" stroke="#EBEBEB" stroke-width="0.8"/>
<line x1="403.02" x2="403.02" y1="137" y2="246.8" stroke="#EBEBEB" stroke-width="0.8"/>
<line x1="442.4" x2="442.4" y1="137" y2="246.8" stroke="#EBEBEB" stroke-width="0.8"/>
<line x1="481.78" x2="481.78" y1="137" y2="246.8" stroke="#EBEBEB" stroke-width="0.8"/>
<line x1="521.17" x2="521.17" y1="137" y2="246.8" stroke="#EBEBEB" stroke-width="0.8"/>
<line x1="363" x2="519" y1="150.5" y2="150.5" stroke="#98D4DE" stroke-width="1.35"/>
<path d="M436.1 144.05L436.1 147.75M437.7 144.97L434.5 146.83M437.7 146.83L434.5 144.97" stroke="#2A7DBA" stroke-width="1.4" stroke-linecap="round"/>
<path d="M443.4 144.05L443.4 147.75M445 144.97L441.8 146.83M445 146.83L441.8 144.97" stroke="#2A7DBA" stroke-width="1.4" stroke-linecap="round"/>
<path d="M450.6 144.05L450.6 147.75M452.2 144.97L449 146.83M452.2 146.83L449 144.97" stroke="#2A7DBA" stroke-width="1.4" stroke-linecap="round"/>
<line x1="363" x2="482.3" y1="178.8" y2="178.8" stroke="#98D4DE" stroke-width="1.35"/>
<path d="M416.1 173.75L416.1 177.45M417.7 174.67L414.5 176.53M417.7 176.53L414.5 174.67" stroke="#2A7DBA" stroke-width="1.4" stroke-linecap="round"/>
<path d="M423.2 173.75L423.2 177.45M424.8 174.67L421.6 176.53M424.8 176.53L421.6 174.67" stroke="#2A7DBA" stroke-width="1.4" stroke-linecap="round"/>
<path d="M430.4 173.75L430.4 177.45M432 174.67L428.8 176.53M432 176.53L428.8 174.67" stroke="#2A7DBA" stroke-width="1.4" stroke-linecap="round"/>
<line x1="362" x2="441.5" y1="198.3" y2="197.4" stroke="#98D4DE" stroke-width="1.35"/>
<path d="M394.9 190.75L394.9 194.45M396.5 191.67L393.3 193.53M396.5 193.53L393.3 191.67" stroke="#2A7DBA" stroke-width="1.4" stroke-linecap="round"/>
<path d="M402.1 190.75L402.1 194.45M403.7 191.67L400.5 193.53M403.7 193.53L400.5 191.67" stroke="#2A7DBA" stroke-width="1.4" stroke-linecap="round"/>
<path d="M409.6 190.75L409.6 194.45M411.2 191.67L408 193.53M411.2 193.53L408 191.67" stroke="#2A7DBA" stroke-width="1.4" stroke-linecap="round"/>
<rect x="350.24" y="239.8" width="6.7" height="1.7" fill="#F8766D"/>
<rect x="356.94" y="239.8" width="6.7" height="1.7" fill="#7CAE00"/>
<rect x="363.63" y="240.14" width="6.7" height="1.36" fill="#00BFC4"/>
<rect x="370.33" y="239.46" width="6.7" height="2.04" fill="#C77CFF"/>
<path d="M351.79 239.46H355.39M353.59 239.46V240.14M351.79 240.14H355.39" stroke="#222" stroke-width="1.15" fill="none"/>
<path d="M358.48 239.46H362.08M360.28 239.46V240.14M358.48 240.14H362.08" stroke="#222" stroke-width="1.15" fill="none"/>
<path d="M365.18 239.8H368.78M366.98 239.8V240.48M365.18 240.48H368.78" stroke="#222" stroke-width="1.15" fill="none"/>
<path d="M371.87 239.12H375.47M373.67 239.12V239.8M371.87 239.8H375.47" stroke="#222" stroke-width="1.15" fill="none"/>
<rect x="389.62" y="239.8" width="6.7" height="1.7" fill="#F8766D"/>
<rect x="396.32" y="238.1" width="6.7" height="3.4" fill="#7CAE00"/>
<rect x="403.02" y="238.78" width="6.7" height="2.72" fill="#00BFC4"/>
<rect x="409.71" y="238.1" width="6.7" height="3.4" fill="#C77CFF"/>
<path d="M391.17 239.46H394.77M392.97 239.46V240.14M391.17 240.14H394.77" stroke="#222" stroke-width="1.15" fill="none"/>
<path d="M397.87 236.4H401.47M399.67 236.4V239.8M397.87 239.8H401.47" stroke="#222" stroke-width="1.15" fill="none"/>
<path d="M404.56 237.76H408.16M406.36 237.76V239.8M404.56 239.8H408.16" stroke="#222" stroke-width="1.15" fill="none"/>
<path d="M411.26 237.42H414.86M413.06 237.42V238.78M411.26 238.78H414.86" stroke="#222" stroke-width="1.15" fill="none"/>
<rect x="429.01" y="236.4" width="6.7" height="5.1" fill="#F8766D"/>
<rect x="435.7" y="225.52" width="6.7" height="15.98" fill="#7CAE00"/>
<rect x="442.4" y="231.3" width="6.7" height="10.2" fill="#00BFC4"/>
<rect x="449.1" y="231.3" width="6.7" height="10.2" fill="#C77CFF"/>
<path d="M430.56 235.72H434.16M432.36 235.72V237.08M430.56 237.08H434.16" stroke="#222" stroke-width="1.15" fill="none"/>
<path d="M437.25 220.42H440.85M439.05 220.42V230.62M437.25 230.62H440.85" stroke="#222" stroke-width="1.15" fill="none"/>
<path d="M443.95 230.96H447.55M445.75 230.96V231.64M443.95 231.64H447.55" stroke="#222" stroke-width="1.15" fill="none"/>
<path d="M450.64 229.26H454.24M452.44 229.26V233.34M450.64 233.34H454.24" stroke="#222" stroke-width="1.15" fill="none"/>
<rect x="468.39" y="229.6" width="6.7" height="11.9" fill="#F8766D"/>
<rect x="475.09" y="211.58" width="6.7" height="29.92" fill="#7CAE00"/>
<rect x="481.78" y="220.42" width="6.7" height="21.08" fill="#00BFC4"/>
<rect x="488.48" y="220.42" width="6.7" height="21.08" fill="#C77CFF"/>
<path d="M469.94 228.92H473.54M471.74 228.92V230.28M469.94 230.28H473.54" stroke="#222" stroke-width="1.15" fill="none"/>
<path d="M476.64 199H480.24M478.44 199V224.16M476.64 224.16H480.24" stroke="#222" stroke-width="1.15" fill="none"/>
<path d="M483.33 218.72H486.93M485.13 218.72V222.12M483.33 222.12H486.93" stroke="#222" stroke-width="1.15" fill="none"/>
<path d="M490.03 215.66H493.63M491.83 215.66V225.18M490.03 225.18H493.63" stroke="#222" stroke-width="1.15" fill="none"/>
<rect x="507.78" y="214.98" width="6.7" height="26.52" fill="#F8766D"/>
<rect x="514.47" y="176.22" width="6.7" height="65.28" fill="#7CAE00"/>
<rect x="521.17" y="192.88" width="6.7" height="48.62" fill="#00BFC4"/>
<rect x="527.86" y="197.98" width="6.7" height="43.52" fill="#C77CFF"/>
<path d="M509.33 212.26H512.93M511.13 212.26V217.7M509.33 217.7H512.93" stroke="#222" stroke-width="1.15" fill="none"/>
<path d="M516.02 153.78H519.62M517.82 153.78V198.66M516.02 198.66H519.62" stroke="#222" stroke-width="1.15" fill="none"/>
<path d="M522.72 192.2H526.32M524.52 192.2V193.56M522.72 193.56H526.32" stroke="#222" stroke-width="1.15" fill="none"/>
<path d="M529.41 189.14H533.01M531.21 189.14V206.82M529.41 206.82H533.01" stroke="#222" stroke-width="1.15" fill="none"/>
<rect x="340" y="137" width="204.8" height="109.8" fill="none" stroke="#5c5c5c" stroke-width="1.2"/>
<line x1="337.4" x2="340" y1="241.5" y2="241.5" stroke="#5c5c5c" stroke-width="0.9"/>
<text transform="translate(333.6,245.07) scale(1.2,1)" font-size="9.2" stroke="#6e6e6e" stroke-width="0.35" text-anchor="end" fill="#6e6e6e">0</text>
<line x1="337.4" x2="340" y1="207.5" y2="207.5" stroke="#5c5c5c" stroke-width="0.9"/>
<text transform="translate(333.6,211.07) scale(1.2,1)" font-size="9.2" stroke="#6e6e6e" stroke-width="0.35" text-anchor="end" fill="#6e6e6e">100</text>
<line x1="337.4" x2="340" y1="173.5" y2="173.5" stroke="#5c5c5c" stroke-width="0.9"/>
<text transform="translate(333.6,177.07) scale(1.2,1)" font-size="9.2" stroke="#6e6e6e" stroke-width="0.35" text-anchor="end" fill="#6e6e6e">200</text>
<line x1="337.4" x2="340" y1="139.5" y2="139.5" stroke="#5c5c5c" stroke-width="0.9"/>
<text transform="translate(333.6,143.07) scale(1.2,1)" font-size="9.2" stroke="#6e6e6e" stroke-width="0.35" text-anchor="end" fill="#6e6e6e">300</text>
<line x1="363.63" x2="363.63" y1="246.8" y2="249" stroke="#5c5c5c" stroke-width="0.9"/>
<line x1="403.02" x2="403.02" y1="246.8" y2="249" stroke="#5c5c5c" stroke-width="0.9"/>
<line x1="442.4" x2="442.4" y1="246.8" y2="249" stroke="#5c5c5c" stroke-width="0.9"/>
<line x1="481.78" x2="481.78" y1="246.8" y2="249" stroke="#5c5c5c" stroke-width="0.9"/>
<line x1="521.17" x2="521.17" y1="246.8" y2="249" stroke="#5c5c5c" stroke-width="0.9"/>
<text x="340.8" y="148.8" font-size="13.5" fill="#111">(h)</text>
<line x1="53.6" x2="269.2" y1="346.3" y2="346.3" stroke="#EBEBEB" stroke-width="0.8"/>
<line x1="53.6" x2="269.2" y1="320.8" y2="320.8" stroke="#EBEBEB" stroke-width="0.8"/>
<line x1="53.6" x2="269.2" y1="295.3" y2="295.3" stroke="#EBEBEB" stroke-width="0.8"/>
<line x1="53.6" x2="269.2" y1="269.8" y2="269.8" stroke="#EBEBEB" stroke-width="0.8"/>
<line x1="53.6" x2="269.2" y1="359.05" y2="359.05" stroke="#EBEBEB" stroke-width="0.8"/>
<line x1="53.6" x2="269.2" y1="333.55" y2="333.55" stroke="#EBEBEB" stroke-width="0.8"/>
<line x1="53.6" x2="269.2" y1="308.05" y2="308.05" stroke="#EBEBEB" stroke-width="0.8"/>
<line x1="53.6" x2="269.2" y1="282.55" y2="282.55" stroke="#EBEBEB" stroke-width="0.8"/>
<line x1="78.48" x2="78.48" y1="258.9" y2="368.3" stroke="#EBEBEB" stroke-width="0.8"/>
<line x1="119.94" x2="119.94" y1="258.9" y2="368.3" stroke="#EBEBEB" stroke-width="0.8"/>
<line x1="161.4" x2="161.4" y1="258.9" y2="368.3" stroke="#EBEBEB" stroke-width="0.8"/>
<line x1="202.86" x2="202.86" y1="258.9" y2="368.3" stroke="#EBEBEB" stroke-width="0.8"/>
<line x1="244.32" x2="244.32" y1="258.9" y2="368.3" stroke="#EBEBEB" stroke-width="0.8"/>
<line x1="78.2" x2="204.2" y1="346.5" y2="346.5" stroke="#98D4DE" stroke-width="1.35"/>
<path d="M139.4 338.15L139.4 341.85M141 339.07L137.8 340.93M141 340.93L137.8 339.07" stroke="#2A7DBA" stroke-width="1.4" stroke-linecap="round"/>
<line x1="78.2" x2="243.4" y1="360.1" y2="360.1" stroke="#98D4DE" stroke-width="1.35"/>
<path d="M155.7 353.45L155.7 357.15M157.3 354.38L154.1 356.23M157.3 356.23L154.1 354.38" stroke="#2A7DBA" stroke-width="1.4" stroke-linecap="round"/>
<path d="M162.7 353.45L162.7 357.15M164.3 354.38L161.1 356.23M164.3 356.23L161.1 354.38" stroke="#2A7DBA" stroke-width="1.4" stroke-linecap="round"/>
<path d="M169.8 353.45L169.8 357.15M171.4 354.38L168.2 356.23M171.4 356.23L168.2 354.38" stroke="#2A7DBA" stroke-width="1.4" stroke-linecap="round"/>
<rect x="64.38" y="285.1" width="7.05" height="35.7" fill="#F8766D"/>
<rect x="71.43" y="291.73" width="7.05" height="29.07" fill="#7CAE00"/>
<rect x="78.48" y="293.77" width="7.05" height="27.03" fill="#00BFC4"/>
<rect x="85.53" y="298.87" width="7.05" height="21.93" fill="#C77CFF"/>
<path d="M66.1 282.55H69.7M67.9 282.55V287.65M66.1 287.65H69.7" stroke="#222" stroke-width="1.15" fill="none"/>
<path d="M73.15 290.2H76.75M74.95 290.2V293.26M73.15 293.26H76.75" stroke="#222" stroke-width="1.15" fill="none"/>
<path d="M80.2 289.69H83.8M82 289.69V297.85M80.2 297.85H83.8" stroke="#222" stroke-width="1.15" fill="none"/>
<path d="M87.25 293.77H90.85M89.05 293.77V303.97M87.25 303.97H90.85" stroke="#222" stroke-width="1.15" fill="none"/>
<rect x="105.84" y="291.22" width="7.05" height="29.58" fill="#F8766D"/>
<rect x="112.89" y="291.73" width="7.05" height="29.07" fill="#7CAE00"/>
<rect x="119.94" y="290.2" width="7.05" height="30.6" fill="#00BFC4"/>
<rect x="126.99" y="288.67" width="7.05" height="32.13" fill="#C77CFF"/>
<path d="M107.57 289.69H111.17M109.37 289.69V292.75M107.57 292.75H111.17" stroke="#222" stroke-width="1.15" fill="none"/>
<path d="M114.61 289.69H118.21M116.41 289.69V293.77M114.61 293.77H118.21" stroke="#222" stroke-width="1.15" fill="none"/>
<path d="M121.66 285.61H125.26M123.46 285.61V294.79M121.66 294.79H125.26" stroke="#222" stroke-width="1.15" fill="none"/>
<path d="M128.71 284.08H132.31M130.51 284.08V293.26M128.71 293.26H132.31" stroke="#222" stroke-width="1.15" fill="none"/>
<rect x="147.3" y="291.73" width="7.05" height="29.07" fill="#F8766D"/>
<rect x="154.35" y="296.32" width="7.05" height="24.48" fill="#7CAE00"/>
<rect x="161.4" y="290.71" width="7.05" height="30.09" fill="#00BFC4"/>
<rect x="168.45" y="305.5" width="7.05" height="15.3" fill="#C77CFF"/>
<path d="M149.03 289.18H152.63M150.83 289.18V294.28M149.03 294.28H152.63" stroke="#222" stroke-width="1.15" fill="none"/>
<path d="M156.08 295.3H159.68M157.88 295.3V297.34M156.08 297.34H159.68" stroke="#222" stroke-width="1.15" fill="none"/>
<path d="M163.12 286.12H166.72M164.92 286.12V295.3M163.12 295.3H166.72" stroke="#222" stroke-width="1.15" fill="none"/>
<path d="M170.17 300.4H173.77M171.97 300.4V310.6M170.17 310.6H173.77" stroke="#222" stroke-width="1.15" fill="none"/>
<rect x="188.76" y="298.36" width="7.05" height="22.44" fill="#F8766D"/>
<rect x="195.81" y="303.97" width="7.05" height="16.83" fill="#7CAE00"/>
<rect x="202.86" y="298.36" width="7.05" height="22.44" fill="#00BFC4"/>
<rect x="209.91" y="307.54" width="7.05" height="13.26" fill="#C77CFF"/>
<path d="M190.49 295.81H194.09M192.29 295.81V300.91M190.49 300.91H194.09" stroke="#222" stroke-width="1.15" fill="none"/>
<path d="M197.54 300.91H201.14M199.34 300.91V307.03M197.54 307.03H201.14" stroke="#222" stroke-width="1.15" fill="none"/>
<path d="M204.59 289.69H208.19M206.39 289.69V307.03M204.59 307.03H208.19" stroke="#222" stroke-width="1.15" fill="none"/>
<path d="M211.63 302.44H215.23M213.43 302.44V312.64M211.63 312.64H215.23" stroke="#222" stroke-width="1.15" fill="none"/>
<rect x="230.23" y="313.66" width="7.05" height="7.14" fill="#F8766D"/>
<rect x="237.27" y="320.8" width="7.05" height="19.89" fill="#7CAE00"/>
<rect x="244.32" y="320.8" width="7.05" height="7.14" fill="#00BFC4"/>
<rect x="251.37" y="320.8" width="7.05" height="26.52" fill="#C77CFF"/>
<path d="M231.95 312.13H235.55M233.75 312.13V315.19M231.95 315.19H235.55" stroke="#222" stroke-width="1.15" fill="none"/>
<path d="M239 333.55H242.6M240.8 333.55V347.83M239 347.83H242.6" stroke="#222" stroke-width="1.15" fill="none"/>
<path d="M246.05 321.82H249.65M247.85 321.82V334.06M246.05 334.06H249.65" stroke="#222" stroke-width="1.15" fill="none"/>
<path d="M253.1 339.67H256.7M254.9 339.67V354.97M253.1 354.97H256.7" stroke="#222" stroke-width="1.15" fill="none"/>
<rect x="53.6" y="258.9" width="215.6" height="109.4" fill="none" stroke="#5c5c5c" stroke-width="1.2"/>
<line x1="51" x2="53.6" y1="346.3" y2="346.3" stroke="#5c5c5c" stroke-width="0.9"/>
<text transform="translate(47.2,349.87) scale(1.2,1)" font-size="9.2" stroke="#6e6e6e" stroke-width="0.35" text-anchor="end" fill="#6e6e6e">-50</text>
<line x1="51" x2="53.6" y1="320.8" y2="320.8" stroke="#5c5c5c" stroke-width="0.9"/>
<text transform="translate(47.2,324.37) scale(1.2,1)" font-size="9.2" stroke="#6e6e6e" stroke-width="0.35" text-anchor="end" fill="#6e6e6e">0</text>
<line x1="51" x2="53.6" y1="295.3" y2="295.3" stroke="#5c5c5c" stroke-width="0.9"/>
<text transform="translate(47.2,298.87) scale(1.2,1)" font-size="9.2" stroke="#6e6e6e" stroke-width="0.35" text-anchor="end" fill="#6e6e6e">50</text>
<line x1="51" x2="53.6" y1="269.8" y2="269.8" stroke="#5c5c5c" stroke-width="0.9"/>
<text transform="translate(47.2,273.37) scale(1.2,1)" font-size="9.2" stroke="#6e6e6e" stroke-width="0.35" text-anchor="end" fill="#6e6e6e">100</text>
<line x1="78.48" x2="78.48" y1="368.3" y2="370.5" stroke="#5c5c5c" stroke-width="0.9"/>
<line x1="119.94" x2="119.94" y1="368.3" y2="370.5" stroke="#5c5c5c" stroke-width="0.9"/>
<line x1="161.4" x2="161.4" y1="368.3" y2="370.5" stroke="#5c5c5c" stroke-width="0.9"/>
<line x1="202.86" x2="202.86" y1="368.3" y2="370.5" stroke="#5c5c5c" stroke-width="0.9"/>
<line x1="244.32" x2="244.32" y1="368.3" y2="370.5" stroke="#5c5c5c" stroke-width="0.9"/>
<text x="56.4" y="273.6" font-size="13.5" fill="#111">(i)</text>
<line x1="340.2" x2="544.8" y1="346.5" y2="346.5" stroke="#EBEBEB" stroke-width="0.8"/>
<line x1="340.2" x2="544.8" y1="321.2" y2="321.2" stroke="#EBEBEB" stroke-width="0.8"/>
<line x1="340.2" x2="544.8" y1="295.9" y2="295.9" stroke="#EBEBEB" stroke-width="0.8"/>
<line x1="340.2" x2="544.8" y1="270.6" y2="270.6" stroke="#EBEBEB" stroke-width="0.8"/>
<line x1="340.2" x2="544.8" y1="359.15" y2="359.15" stroke="#EBEBEB" stroke-width="0.8"/>
<line x1="340.2" x2="544.8" y1="333.85" y2="333.85" stroke="#EBEBEB" stroke-width="0.8"/>
<line x1="340.2" x2="544.8" y1="308.55" y2="308.55" stroke="#EBEBEB" stroke-width="0.8"/>
<line x1="340.2" x2="544.8" y1="283.25" y2="283.25" stroke="#EBEBEB" stroke-width="0.8"/>
<line x1="363.81" x2="363.81" y1="259.4" y2="368.3" stroke="#EBEBEB" stroke-width="0.8"/>
<line x1="403.15" x2="403.15" y1="259.4" y2="368.3" stroke="#EBEBEB" stroke-width="0.8"/>
<line x1="442.5" x2="442.5" y1="259.4" y2="368.3" stroke="#EBEBEB" stroke-width="0.8"/>
<line x1="481.85" x2="481.85" y1="259.4" y2="368.3" stroke="#EBEBEB" stroke-width="0.8"/>
<line x1="521.19" x2="521.19" y1="259.4" y2="368.3" stroke="#EBEBEB" stroke-width="0.8"/>
<line x1="363" x2="476" y1="346.1" y2="345.2" stroke="#98D4DE" stroke-width="1.35"/>
<path d="M420.2 338.95L420.2 342.65M421.8 339.88L418.6 341.73M421.8 341.73L418.6 339.88" stroke="#2A7DBA" stroke-width="1.4" stroke-linecap="round"/>
<path d="M427.5 338.95L427.5 342.65M429.1 339.88L425.9 341.73M429.1 341.73L425.9 339.88" stroke="#2A7DBA" stroke-width="1.4" stroke-linecap="round"/>
<line x1="363" x2="519" y1="357.3" y2="358.9" stroke="#98D4DE" stroke-width="1.35"/>
<path d="M434.5 352.25L434.5 355.95M436.1 353.18L432.9 355.03M436.1 355.03L432.9 353.18" stroke="#2A7DBA" stroke-width="1.4" stroke-linecap="round"/>
<path d="M441.6 352.25L441.6 355.95M443.2 353.18L440 355.03M443.2 355.03L440 353.18" stroke="#2A7DBA" stroke-width="1.4" stroke-linecap="round"/>
<path d="M448.9 352.25L448.9 355.95M450.5 353.18L447.3 355.03M450.5 355.03L447.3 353.18" stroke="#2A7DBA" stroke-width="1.4" stroke-linecap="round"/>
<rect x="350.43" y="288.82" width="6.69" height="32.38" fill="#F8766D"/>
<rect x="357.12" y="276.67" width="6.69" height="44.53" fill="#7CAE00"/>
<rect x="363.81" y="278.7" width="6.69" height="42.5" fill="#00BFC4"/>
<rect x="370.5" y="282.74" width="6.69" height="38.46" fill="#C77CFF"/>
<path d="M351.97 286.79H355.57M353.77 286.79V290.84M351.97 290.84H355.57" stroke="#222" stroke-width="1.15" fill="none"/>
<path d="M358.66 273.64H362.26M360.46 273.64V279.71M358.66 279.71H362.26" stroke="#222" stroke-width="1.15" fill="none"/>
<path d="M365.35 272.12H368.95M367.15 272.12V285.27M365.35 285.27H368.95" stroke="#222" stroke-width="1.15" fill="none"/>
<path d="M372.04 281.23H375.64M373.84 281.23V284.26M372.04 284.26H375.64" stroke="#222" stroke-width="1.15" fill="none"/>
<rect x="389.78" y="290.84" width="6.69" height="30.36" fill="#F8766D"/>
<rect x="396.46" y="282.24" width="6.69" height="38.96" fill="#7CAE00"/>
<rect x="403.15" y="275.66" width="6.69" height="45.54" fill="#00BFC4"/>
<rect x="409.84" y="283.5" width="6.69" height="37.7" fill="#C77CFF"/>
<path d="M391.32 289.32H394.92M393.12 289.32V292.36M391.32 292.36H394.92" stroke="#222" stroke-width="1.15" fill="none"/>
<path d="M398.01 280.72H401.61M399.81 280.72V283.76M398.01 283.76H401.61" stroke="#222" stroke-width="1.15" fill="none"/>
<path d="M404.7 269.59H408.3M406.5 269.59V281.73M404.7 281.73H408.3" stroke="#222" stroke-width="1.15" fill="none"/>
<path d="M411.39 279.96H414.99M413.19 279.96V287.05M411.39 287.05H414.99" stroke="#222" stroke-width="1.15" fill="none"/>
<rect x="429.12" y="291.35" width="6.69" height="29.85" fill="#F8766D"/>
<rect x="435.81" y="290.33" width="6.69" height="30.87" fill="#7CAE00"/>
<rect x="442.5" y="282.24" width="6.69" height="38.96" fill="#00BFC4"/>
<rect x="449.19" y="288.82" width="6.69" height="32.38" fill="#C77CFF"/>
<path d="M430.67 289.83H434.27M432.47 289.83V292.86M430.67 292.86H434.27" stroke="#222" stroke-width="1.15" fill="none"/>
<path d="M437.36 285.27H440.96M439.16 285.27V295.39M437.36 295.39H440.96" stroke="#222" stroke-width="1.15" fill="none"/>
<path d="M444.04 276.67H447.64M445.84 276.67V287.8M444.04 287.8H447.64" stroke="#222" stroke-width="1.15" fill="none"/>
<path d="M450.73 283.25H454.33M452.53 283.25V294.38M450.73 294.38H454.33" stroke="#222" stroke-width="1.15" fill="none"/>
<rect x="468.47" y="294.38" width="6.69" height="26.82" fill="#F8766D"/>
<rect x="475.16" y="302.17" width="6.69" height="19.03" fill="#7CAE00"/>
<rect x="481.85" y="291.35" width="6.69" height="29.85" fill="#00BFC4"/>
<rect x="488.53" y="292.86" width="6.69" height="28.34" fill="#C77CFF"/>
<path d="M470.01 292.86H473.61M471.81 292.86V295.9M470.01 295.9H473.61" stroke="#222" stroke-width="1.15" fill="none"/>
<path d="M476.7 293.07H480.3M478.5 293.07V311.28M476.7 311.28H480.3" stroke="#222" stroke-width="1.15" fill="none"/>
<path d="M483.39 282.74H486.99M485.19 282.74V299.95M483.39 299.95H486.99" stroke="#222" stroke-width="1.15" fill="none"/>
<path d="M490.08 290.33H493.68M491.88 290.33V295.39M490.08 295.39H493.68" stroke="#222" stroke-width="1.15" fill="none"/>
<rect x="507.81" y="313.1" width="6.69" height="8.1" fill="#F8766D"/>
<rect x="514.5" y="321.2" width="6.69" height="23.28" fill="#7CAE00"/>
<rect x="521.19" y="315.63" width="6.69" height="5.57" fill="#00BFC4"/>
<rect x="527.88" y="315.13" width="6.69" height="6.07" fill="#C77CFF"/>
<path d="M509.36 310.57H512.96M511.16 310.57V315.63M509.36 315.63H512.96" stroke="#222" stroke-width="1.15" fill="none"/>
<path d="M516.05 333.85H519.65M517.85 333.85V355.1M516.05 355.1H519.65" stroke="#222" stroke-width="1.15" fill="none"/>
<path d="M522.74 314.62H526.34M524.54 314.62V316.65M522.74 316.65H526.34" stroke="#222" stroke-width="1.15" fill="none"/>
<path d="M529.43 314.12H533.03M531.23 314.12V316.14M529.43 316.14H533.03" stroke="#222" stroke-width="1.15" fill="none"/>
<rect x="340.2" y="259.4" width="204.6" height="108.9" fill="none" stroke="#5c5c5c" stroke-width="1.2"/>
<line x1="337.6" x2="340.2" y1="346.5" y2="346.5" stroke="#5c5c5c" stroke-width="0.9"/>
<text transform="translate(333.8,350.07) scale(1.2,1)" font-size="9.2" stroke="#6e6e6e" stroke-width="0.35" text-anchor="end" fill="#6e6e6e">-50</text>
<line x1="337.6" x2="340.2" y1="321.2" y2="321.2" stroke="#5c5c5c" stroke-width="0.9"/>
<text transform="translate(333.8,324.77) scale(1.2,1)" font-size="9.2" stroke="#6e6e6e" stroke-width="0.35" text-anchor="end" fill="#6e6e6e">0</text>
<line x1="337.6" x2="340.2" y1="295.9" y2="295.9" stroke="#5c5c5c" stroke-width="0.9"/>
<text transform="translate(333.8,299.47) scale(1.2,1)" font-size="9.2" stroke="#6e6e6e" stroke-width="0.35" text-anchor="end" fill="#6e6e6e">50</text>
<line x1="337.6" x2="340.2" y1="270.6" y2="270.6" stroke="#5c5c5c" stroke-width="0.9"/>
<text transform="translate(333.8,274.17) scale(1.2,1)" font-size="9.2" stroke="#6e6e6e" stroke-width="0.35" text-anchor="end" fill="#6e6e6e">100</text>
<line x1="363.81" x2="363.81" y1="368.3" y2="370.5" stroke="#5c5c5c" stroke-width="0.9"/>
<line x1="403.15" x2="403.15" y1="368.3" y2="370.5" stroke="#5c5c5c" stroke-width="0.9"/>
<line x1="442.5" x2="442.5" y1="368.3" y2="370.5" stroke="#5c5c5c" stroke-width="0.9"/>
<line x1="481.85" x2="481.85" y1="368.3" y2="370.5" stroke="#5c5c5c" stroke-width="0.9"/>
<line x1="521.19" x2="521.19" y1="368.3" y2="370.5" stroke="#5c5c5c" stroke-width="0.9"/>
<text x="342.8" y="271.2" font-size="13.5" fill="#111">(j)</text>
<text transform="translate(15.600000000000001,243.0) rotate(-90) scale(0.92,1)" font-family="Liberation Serif, serif" font-size="14" font-weight="bold" fill="#111">R<tspan font-size="10" dy="2.2">d</tspan></text>
<text transform="translate(14.8,225.8) rotate(-90) scale(1.135,1)" font-family="Liberation Serif, serif" font-size="14" fill="#111">(µmol. kg<tspan font-size="8" dy="-5"> -1</tspan><tspan dy="5">. s</tspan><tspan font-size="8" dy="-5"> -1</tspan><tspan dy="5">)</tspan></text>
<text transform="translate(16.8,389.2) rotate(-90) scale(1.0,1)" font-family="Liberation Serif, serif" font-size="14" font-weight="bold" fill="#111">A<tspan font-size="9" dy="1.5">net</tspan></text>
<text transform="translate(16.8,363.8) rotate(-90) scale(1.115,1)" font-family="Liberation Serif, serif" font-size="14" fill="#111">(µmol. kg<tspan font-size="8" dy="-5"> -1</tspan><tspan dy="5">. s</tspan><tspan font-size="8" dy="-5"> -1</tspan><tspan dy="5">)</tspan></text>
<text transform="translate(302.40000000000003,243.0) rotate(-90) scale(0.92,1)" font-family="Liberation Serif, serif" font-size="14" font-weight="bold" fill="#111">R<tspan font-size="10" dy="2.2">d</tspan></text>
<text transform="translate(301.8,224.4) rotate(-90) scale(1.125,1)" font-family="Liberation Serif, serif" font-size="14" fill="#111">(µmol. kg<tspan font-size="8" dy="-5"> -1</tspan><tspan dy="5">. s</tspan><tspan font-size="8" dy="-5"> -1</tspan><tspan dy="5">)</tspan></text>
<text transform="translate(305.3,389.2) rotate(-90) scale(1.0,1)" font-family="Liberation Serif, serif" font-size="14" font-weight="bold" fill="#111">A<tspan font-size="9" dy="1.5">net</tspan></text>
<text transform="translate(305.3,363.2) rotate(-90) scale(1.115,1)" font-family="Liberation Serif, serif" font-size="14" fill="#111">(µmol. kg<tspan font-size="8" dy="-5"> -1</tspan><tspan dy="5">. s</tspan><tspan font-size="8" dy="-5"> -1</tspan><tspan dy="5">)</tspan></text>
<g font-family="Liberation Serif, serif" font-weight="bold" font-size="13.9" fill="#111" text-anchor="middle">
<text x="71.3" y="392">C400</text><text x="71.5" y="408.4">T0</text>
<text x="115.2" y="392">C421</text><text x="116.5" y="408.4">T1.5</text>
<text x="156" y="392">C538</text><text x="157" y="408.4">T2.3</text>
<text x="198" y="392">C670</text><text x="198" y="408.4">T3.3</text>
<text x="236" y="392">C936</text><text x="235" y="408.4">T5.2</text>
<text x="357" y="392">C400</text><text x="357" y="408.4">T0</text>
<text x="401" y="392">C421</text><text x="401.7" y="408.4">T1.5</text>
<text x="439" y="392">C538</text><text x="441.5" y="408.4">T2.3</text>
<text x="480" y="392">C670</text><text x="482.5" y="408.4">T3.3</text>
<text x="518" y="392">C936</text><text x="520" y="408.4">T5.2</text>
</g>
</svg>
</body></html>
